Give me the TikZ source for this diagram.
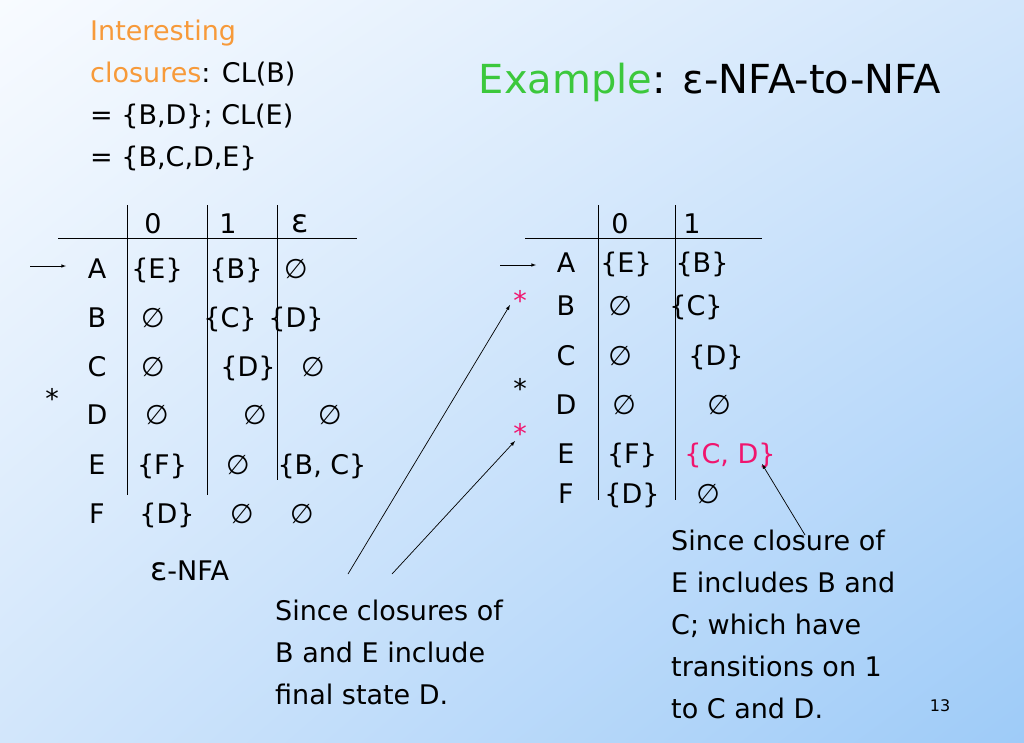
\documentclass[tikz,border=0pt]{standalone}
\usepackage{fontspec}
\setmainfont{DejaVu Sans}
\usetikzlibrary{shadings}
\begin{document}
\begin{tikzpicture}[x=1pt,y=-1pt,
  t/.style={font=\fontsize{27}{30}\selectfont,inner sep=0pt,anchor=base},
  tl/.style={t,anchor=base west},
  ln/.style={line width=0.8pt},
  call/.style={line width=0.7pt,-latex}]
\definecolor{org}{HTML}{F79A3A}
\definecolor{grn}{HTML}{3CC83C}
\definecolor{pnk}{HTML}{F0156E}
\definecolor{bgA}{HTML}{F8FBFF}
\definecolor{bgB}{HTML}{D2E6FB}
\definecolor{bgC}{HTML}{9ECBF8}
\shade[upper left=bgA,upper right=bgB,lower left=bgB,lower right=bgC] (0,0) rectangle (1024,742);
\useasboundingbox (0,0) rectangle (1024,742);
% top-left text
\node[tl,text=org] (i1) at (90,40) {Interesting};
\node[tl] (i2) at (90,82) {\textcolor{org}{closures}: CL(B)};
\node[tl] (i3) at (90,124) {= \{B,D\}; CL(E)};
\node[tl] (i4) at (90,166) {= \{B,C,D,E\}};
\node[font=\fontsize{40}{44}\selectfont,inner sep=0pt,anchor=base] (ti) at (710,93) {\textcolor{grn}{Example}: ε-NFA-to-NFA};
% left table
\draw[ln] (127,205) -- (127,495) (207,205) -- (207,495) (277,205) -- (277,480);
\draw[ln] (58,238) -- (357,238);
\node[t] (lh0) at (153,233) {0};
\node[t] (lh1) at (228,233) {1};
\node[t,font=\fontsize{32}{34}\selectfont] (lh2) at (300,232) {ε};
\foreach \r/\y in {A/278,B/327,C/376,D/424,E/474,F/523}{
  \node[t] (lr\r) at (97,\y) {\r};
}
\node[t] (la0) at (157,278) {\{E\}};
\node[t] (la1) at (236,278) {\{B\}};
\node[t] (la2) at (296,278) {∅};
\node[t] (lb0) at (153,327) {∅};
\node[t] (lb1) at (230,327) {\{C\}};
\node[t] (lb2) at (296,327) {\{D\}};
\node[t] (lc0) at (153,376) {∅};
\node[t] (lc1) at (248,376) {\{D\}};
\node[t] (lc2) at (313,376) {∅};
\node[t] (ld0) at (157,424) {∅};
\node[t] (ld1) at (255,424) {∅};
\node[t] (ld2) at (330,424) {∅};
\node[t] (le0) at (162,474) {\{F\}};
\node[t] (le1) at (238,474) {∅};
\node[t] (le2) at (322,474) {\{B, C\}};
\node[t] (lf0) at (167,523) {\{D\}};
\node[t] (lf1) at (242,523) {∅};
\node[t] (lf2) at (302,523) {∅};
\coordinate (la) at (30,266);
\draw[line width=0.6pt,-latex] (la) -- (66,266);
\node[t] (ls) at (52,408) {*};
\node[tl] (lab) at (150,580) {{\fontsize{32}{34}\selectfont ε}-NFA};
% right table
\draw[ln] (598,205) -- (598,500) (675,205) -- (675,500);
\draw[ln] (525,238) -- (762,238);
\node[t] (rh0) at (620,233) {0};
\node[t] (rh1) at (692,233) {1};
\foreach \r/\y in {A/272,B/315,C/365,D/414,E/463,F/503}{\node[t] (rr\r) at (566,\y) {\r};}
\node[t] (ra0) at (626,272) {\{E\}};
\node[t] (ra1) at (702,272) {\{B\}};
\node[t] (rb0) at (620,315) {∅};
\node[t] (rb1) at (696,315) {\{C\}};
\node[t] (rc0) at (620,365) {∅};
\node[t] (rc1) at (716,365) {\{D\}};
\node[t] (rd0) at (624,414) {∅};
\node[t] (rd1) at (719,414) {∅};
\node[t] (re0) at (632,463) {\{F\}};
\node[t,text=pnk] (re1) at (730,463) {\{C, D\}};
\node[t] (rf0) at (632,503) {\{D\}};
\node[t] (rf1) at (708,503) {∅};
\coordinate (ra) at (500,265);
\draw[line width=0.6pt,-latex] (ra) -- (536,265);
\node[t,text=pnk] (rs1) at (520,310) {*};
\node[t] (rs2) at (520,398) {*};
\node[t,text=pnk] (rs3) at (520,443) {*};
% bottom notes
\node[tl] (n1) at (275,620) {Since closures of};
\node[tl] (n2) at (275,662) {B and E include};
\node[tl] (n3) at (275,704) {final state D.};
\node[tl] (m1) at (671,550) {Since closure of};
\node[tl] (m2) at (671,592) {E includes B and};
\node[tl] (m3) at (671,634) {C; which have};
\node[tl] (m4) at (671,676) {transitions on 1};
\node[tl] (m5) at (671,718) {to C and D.};
\node[font=\fontsize{16}{18}\rmfamily\selectfont,inner sep=0pt] (pg) at (940,706) {13};
\coordinate (c1) at (348,574);
\coordinate (c2) at (392,574);
\coordinate (c3) at (805,535);
\draw[call] (c1) -- (510,305);
\draw[call] (c2) -- (515,441);
\draw[call] (c3) -- (762,464);
\end{tikzpicture}
\end{document}
